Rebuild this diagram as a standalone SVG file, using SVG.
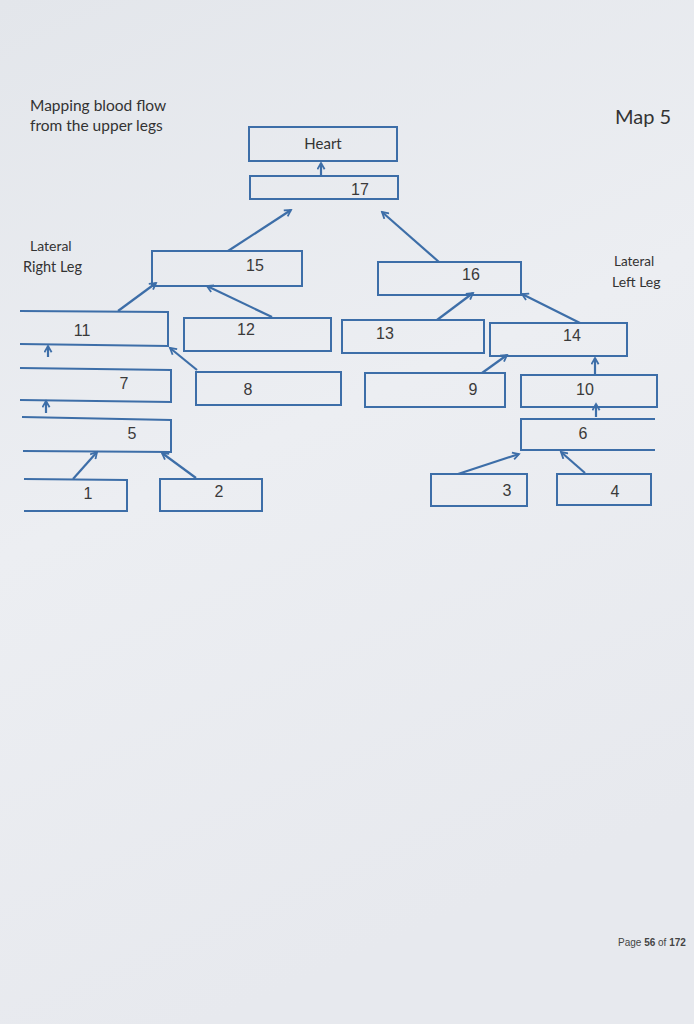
<svg xmlns="http://www.w3.org/2000/svg" width="694" height="1024" viewBox="0 0 694 1024">
<defs>
<linearGradient id="bg" x1="0" y1="0" x2="0.3" y2="1">
<stop offset="0" stop-color="#e3e6eb"/>
<stop offset="0.5" stop-color="#eceef2"/>
<stop offset="1" stop-color="#e7e9ee"/>
</linearGradient>
<marker id="ah" viewBox="0 0 10 10" refX="8" refY="5" markerWidth="9" markerHeight="9" markerUnits="userSpaceOnUse" orient="auto">
<polyline points="1,1 8,5 1,9" fill="none" stroke="#3d6ea8" stroke-width="2"/>
</marker>
<style>
.box{fill:none;stroke:#3d6ea8;stroke-width:2}
.con{fill:none;stroke:#3d6ea8;stroke-width:2.2;marker-end:url(#ah)}
.num{font-family:"Liberation Sans",Arial,sans-serif;font-size:16px;fill:#3a3a3a;text-anchor:middle}
.lbl{font-family:Lato,"Open Sans",sans-serif;fill:#333}
</style>
</defs>
<rect x="0" y="0" width="694" height="1024" fill="url(#bg)"/>
<text class="lbl" x="30" y="111" font-size="15.5">Mapping blood flow</text>
<text class="lbl" x="30" y="131" font-size="15.5">from the upper legs</text>
<text class="lbl" x="615" y="124" font-size="20">Map 5</text>
<text class="lbl" x="30" y="251" font-size="14">Lateral</text>
<text class="lbl" x="23" y="272" font-size="14.5">Right Leg</text>
<text class="lbl" x="614" y="266" font-size="13.5">Lateral</text>
<text class="lbl" x="612" y="287" font-size="14">Left Leg</text>
<text x="618" y="946" font-size="10" fill="#444" font-family="'Liberation Sans',Arial,sans-serif">Page <tspan font-weight="bold">56</tspan> of <tspan font-weight="bold">172</tspan></text>

<g id="heart"><rect class="box" x="249" y="127" width="148" height="34"/><text class="lbl" x="323" y="149" font-size="15" text-anchor="middle">Heart</text></g>
<g id="n17"><rect class="box" x="250" y="176" width="148" height="23"/><text class="num" x="360" y="195">17</text></g>
<g id="n15"><rect class="box" x="152" y="251" width="150" height="35"/><text class="num" x="255" y="271">15</text></g>
<g id="n16"><rect class="box" x="378" y="262" width="143" height="33"/><text class="num" x="471" y="280">16</text></g>
<g id="n11"><polyline class="box" points="20,311 168,312 168,346 20,344"/><text class="num" x="82" y="336">11</text></g>
<g id="n12"><rect class="box" x="184" y="318" width="147" height="33"/><text class="num" x="246" y="335">12</text></g>
<g id="n13"><rect class="box" x="342" y="320" width="142" height="33"/><text class="num" x="385" y="339">13</text></g>
<g id="n14"><rect class="box" x="490" y="323" width="137" height="33"/><text class="num" x="572" y="341">14</text></g>
<g id="n7"><polyline class="box" points="20,368 171,370 171,402 20,400"/><text class="num" x="124" y="389">7</text></g>
<g id="n8"><rect class="box" x="196" y="372" width="145" height="33"/><text class="num" x="248" y="395">8</text></g>
<g id="n9"><rect class="box" x="365" y="373" width="140" height="34"/><text class="num" x="473" y="395">9</text></g>
<g id="n10"><rect class="box" x="521" y="375" width="136" height="32"/><text class="num" x="585" y="395">10</text></g>
<g id="n5"><polyline class="box" points="22,417 171,420 171,452 23,451"/><text class="num" x="132" y="439">5</text></g>
<g id="n6"><polyline class="box" points="655,419 521,419 521,450 655,450"/><text class="num" x="583" y="439">6</text></g>
<g id="n1"><polyline class="box" points="24,479 127,480 127,511 24,511"/><text class="num" x="88" y="499">1</text></g>
<g id="n2"><rect class="box" x="160" y="479" width="102" height="32"/><text class="num" x="219" y="497">2</text></g>
<g id="n3"><rect class="box" x="431" y="474" width="96" height="32"/><text class="num" x="507" y="496">3</text></g>
<g id="n4"><rect class="box" x="557" y="474" width="94" height="31"/><text class="num" x="615" y="497">4</text></g>

<g id="connectors">
<line class="con" x1="321" y1="176" x2="321" y2="163"/>
<line class="con" x1="228" y1="251" x2="291" y2="210"/>
<line class="con" x1="439" y1="262" x2="382" y2="212"/>
<line class="con" x1="118" y1="311" x2="156" y2="283"/>
<line class="con" x1="272" y1="317" x2="207" y2="286"/>
<line class="con" x1="437" y1="320" x2="473" y2="293"/>
<line class="con" x1="580" y1="323" x2="522" y2="294"/>
<line class="con" x1="48" y1="357" x2="48" y2="346"/>
<line class="con" x1="197" y1="370" x2="170" y2="348"/>
<line class="con" x1="46" y1="413" x2="46" y2="401"/>
<line class="con" x1="73" y1="479" x2="97" y2="452"/>
<line class="con" x1="196" y1="478" x2="162" y2="453"/>
<line class="con" x1="482" y1="373" x2="507" y2="355"/>
<line class="con" x1="595" y1="374" x2="595" y2="358"/>
<line class="con" x1="596" y1="417" x2="596" y2="404"/>
<line class="con" x1="458" y1="474" x2="519" y2="454"/>
<line class="con" x1="585" y1="473" x2="561" y2="452"/>
</g>
</svg>
